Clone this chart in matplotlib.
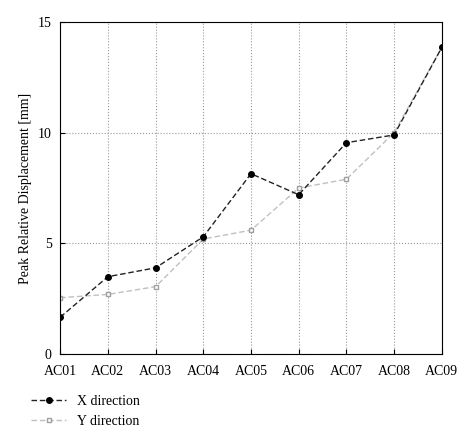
import matplotlib
matplotlib.use("Agg")
import matplotlib.pyplot as plt

labels = ["AC01", "AC02", "AC03", "AC04", "AC05", "AC06", "AC07", "AC08", "AC09"]
x_dir = [1.67, 3.5, 3.9, 5.3, 8.15, 7.2, 9.55, 9.9, 13.85]
y_dir = [2.55, 2.7, 3.05, 5.2, 5.6, 7.5, 7.9, 10.0, 13.85]

plt.rcParams['font.family'] = ['Liberation Serif', 'DejaVu Serif']

fig = plt.figure(figsize=(4.74, 4.40), dpi=100)
ax = fig.add_axes([0.127, 0.195, 0.805, 0.755])
pos = list(range(len(labels)))
ax.plot(pos, y_dir, ls=(0, (4, 2)), color='#c0c0c0', lw=1, marker='s', ms=3.5,
        mfc='white', mec='#a0a0a0', label='Y direction')
ax.plot(pos, x_dir, ls=(0, (4, 2)), color='#222222', lw=1, marker='o', ms=4,
        mfc='black', mec='black', label='X direction')
ax.set_xlim(0, 8)
ax.set_ylim(0, 15)
ax.set_xticks(pos)
ax.set_xticklabels(labels)
ax.set_yticks([0, 5, 10, 15])
ax.grid(True, ls=':', color='#999999', lw=0.8)
ax.tick_params(direction='in', labelsize=10)
ax.tick_params(axis='x', pad=8)
ax.tick_params(axis='y', pad=6)
ax.set_ylabel("Peak Relative Displacement [mm]", fontsize=10)
h, l = ax.get_legend_handles_labels()
fig.legend(h[::-1], l[::-1], loc='lower left', bbox_to_anchor=(0.04, 0.0),
           frameon=False, fontsize=10, handlelength=2.5)
fig.savefig("out.png", dpi=100)
